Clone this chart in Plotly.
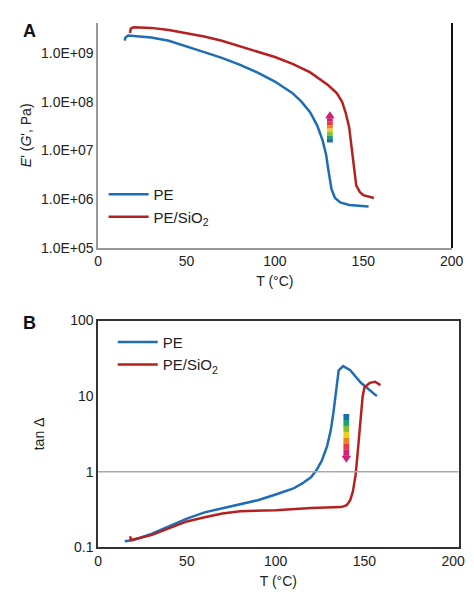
import plotly.graph_objects as go

# Panel A: storage modulus
T_pe_a = [15, 15.5, 17, 30, 40, 50, 60, 70, 80, 90, 100, 110, 115, 120, 124, 127, 129, 130, 131, 132, 134, 137, 142, 153]
E_pe = [1.8e9, 2.1e9, 2.3e9, 2.1e9, 1.8e9, 1.4e9, 1.05e9, 8e8, 5.8e8, 4e8, 2.6e8, 1.5e8, 1.0e8, 6e7, 3.2e7, 1.6e7, 8e6, 4.5e6, 2.5e6, 1.6e6, 1.05e6, 8.5e5, 7.5e5, 7e5]
T_si_a = [18, 18.5, 20, 30, 40, 50, 60, 70, 80, 90, 100, 110, 120, 130, 135, 138, 140, 142, 143, 144, 145, 146, 148, 150, 156]
E_si = [2.6e9, 3.2e9, 3.4e9, 3.3e9, 3.0e9, 2.6e9, 2.2e9, 1.8e9, 1.4e9, 1.1e9, 8.3e8, 6e8, 4e8, 2.2e8, 1.5e8, 1.0e8, 6e7, 3e7, 1.5e7, 6e6, 3e6, 1.9e6, 1.4e6, 1.2e6, 1.05e6]

# Panel B: tan delta
T_pe_b = [15, 20, 30, 40, 50, 60, 70, 80, 90, 100, 110, 115, 120, 123, 126, 129, 131, 132.5, 134, 135.5, 138, 142, 148, 157]
tan_pe = [0.12, 0.125, 0.15, 0.19, 0.24, 0.29, 0.33, 0.37, 0.42, 0.5, 0.6, 0.7, 0.85, 1.05, 1.4, 2.2, 3.5, 6, 12, 22, 25, 22, 15, 10]
T_si_b = [18, 18.5, 30, 40, 50, 60, 70, 80, 100, 120, 137, 140, 142, 143.5, 145, 146, 147, 148, 149, 150, 153, 156, 159]
tan_si = [0.14, 0.125, 0.145, 0.18, 0.22, 0.25, 0.28, 0.3, 0.31, 0.33, 0.34, 0.36, 0.42, 0.55, 0.9, 1.6, 3, 6, 10, 13, 15, 15.5, 14]

BLUE = "#1f6db5"
RED = "#b52020"
FONT = "Liberation Sans"

fig = go.Figure()
fig.add_trace(go.Scatter(x=T_pe_a, y=E_pe, mode="lines", line=dict(color=BLUE, width=2.5), name="PE", xaxis="x", yaxis="y", legend="legend"))
fig.add_trace(go.Scatter(x=T_si_a, y=E_si, mode="lines", line=dict(color=RED, width=2.5), name="PE/SiO<sub>2</sub>", xaxis="x", yaxis="y", legend="legend"))
fig.add_trace(go.Scatter(x=T_pe_b, y=tan_pe, mode="lines", line=dict(color=BLUE, width=2.5), name="PE", xaxis="x2", yaxis="y2", legend="legend2"))
fig.add_trace(go.Scatter(x=T_si_b, y=tan_si, mode="lines", line=dict(color=RED, width=2.5), name="PE/SiO<sub>2</sub>", xaxis="x2", yaxis="y2", legend="legend2"))

axfont = dict(family=FONT, size=14, color="#222")
common_x = dict(dtick=50, showgrid=False, zeroline=False, ticks="", tickfont=axfont,
                title=dict(text="T (°C)", font=axfont, standoff=8))
fig.update_layout(
    width=474, height=595, margin=dict(l=0, r=0, t=0, b=0),
    paper_bgcolor="white", plot_bgcolor="white", font=dict(family=FONT),
    xaxis=dict(domain=[0.188, 0.96], anchor="y", range=[0, 200], showline=True, linecolor="#999", linewidth=1.5, **common_x),
    yaxis=dict(domain=[0.600, 0.988], anchor="x", type="log", range=[5, 9.62], tickvals=[1e5, 1e6, 1e7, 1e8, 1e9],
               ticktext=["1.0E+05", "1.0E+06", "1.0E+07", "1.0E+08", "1.0E+09"], showgrid=False, zeroline=False,
               showline=True, linecolor="#999", linewidth=1.5, tickfont=axfont,
               title=dict(text="<i>E</i>' (<i>G</i>', Pa)", font=axfont, standoff=6)),
    yaxis3=dict(overlaying="y", anchor="free", position=0.96, side="right", showticklabels=False, showline=True,
                linecolor="#111", linewidth=2, showgrid=False, range=[0, 1]),
    xaxis2=dict(domain=[0.188, 0.975], anchor="y2", range=[0, 203], showline=True, mirror=True, linecolor="#333", linewidth=1.5, **common_x),
    yaxis2=dict(domain=[0.0824, 0.474], anchor="x2", type="log", range=[-1, 2], tickvals=[0.1, 1, 10, 100],
                ticktext=["0.1", "1", "10", "100"], showgrid=False, zeroline=False, showline=True, mirror=True,
                linecolor="#333", linewidth=1.5, tickfont=axfont,
                title=dict(text="tan Δ", font=axfont, standoff=22)),
    legend=dict(x=0.2, y=0.72, xanchor="left", yanchor="top", font=dict(family=FONT, size=15, color="#222"),
                bgcolor="rgba(0,0,0,0)", tracegroupgap=4, itemwidth=40),
    legend2=dict(x=0.22, y=0.465, xanchor="left", yanchor="top", font=dict(family=FONT, size=15, color="#222"),
                 bgcolor="rgba(0,0,0,0)", itemwidth=40),
    showlegend=True,
)
fig.add_trace(go.Scatter(x=[None], y=[None], xaxis="x", yaxis="y3", showlegend=False))
fig.add_shape(type="line", xref="x2 domain", yref="y2", x0=0, x1=1, y0=1, y1=1, line=dict(color="#aaa", width=1.5))

# Panel labels
fig.add_annotation(x=0.02, y=0.995, xref="paper", yref="paper", text="<b>A</b>", showarrow=False,
                   font=dict(family=FONT, size=18, color="#111"), xanchor="left", yanchor="top")
fig.add_annotation(x=0.02, y=0.49, xref="paper", yref="paper", text="<b>B</b>", showarrow=False,
                   font=dict(family=FONT, size=18, color="#111"), xanchor="left", yanchor="top")

# Gradient arrows (decorative)
grad = ["#d0207a", "#e83a3a", "#f08020", "#e8d020", "#80c030", "#20a070", "#1870b0"]
def arrow(xpx, ytop, ybot, top_to_bottom):
    cols = grad if top_to_bottom else grad[::-1]
    n = len(cols)
    h = (ybot - ytop) / n
    for i, c in enumerate(cols):
        y0 = ytop + i * h
        fig.add_shape(type="rect", xref="paper", yref="paper",
                      x0=(xpx - 3) / 474, x1=(xpx + 3) / 474,
                      y0=1 - (y0 + h) / 595, y1=1 - y0 / 595, fillcolor=c, line=dict(width=0))
arrow(329, 105, 130, True)
fig.add_shape(type="path", xref="paper", yref="paper",
              path=f"M {324/474} {1-105/595} L {334/474} {1-105/595} L {329/474} {1-98/595} Z",
              fillcolor="#d0207a", line=dict(width=0))
arrow(346, 409, 452, False)
fig.add_shape(type="path", xref="paper", yref="paper",
              path=f"M {341/474} {1-452/595} L {351/474} {1-452/595} L {346/474} {1-459/595} Z",
              fillcolor="#d0207a", line=dict(width=0))

fig.write_html("out.html")
